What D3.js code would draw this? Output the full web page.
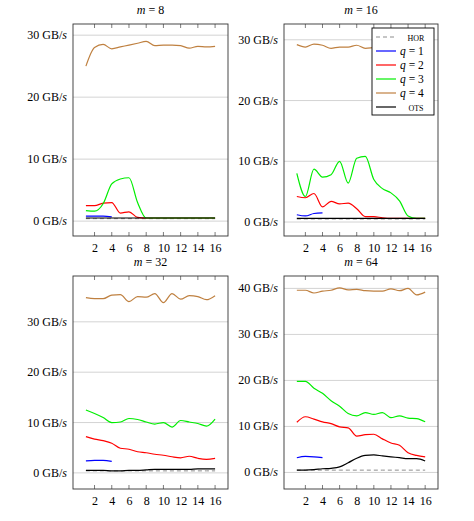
<!DOCTYPE html>
<meta charset="utf-8">
<script src="https://d3js.org/d3.v7.min.js"></script>
<style>body{margin:0;background:#fff} text{font-family:"Liberation Serif","Times New Roman","DejaVu Serif",serif !important}</style>
<div id="chart"></div>
<script>
// x values: 1..16
var xs = [1,2,3,4,5,6,7,8,9,10,11,12,13,14,15,16];
var xTicks = [2,4,6,8,10,12,14,16];
var titles = ["8", "16", "32", "64"];
var yTicksList = [[0,10,20,30],[0,10,20,30],[0,10,20,30],[0,10,20,30,40]];

var hor8  = [0.4,0.4,0.4,0.4,0.4,0.4,0.4,0.4,0.4,0.4,0.4,0.4,0.4,0.4,0.4,0.4];
var q1_8  = [0.8,0.8,0.8,0.7];
var q2_8  = [2.5,2.5,2.9,3.0,1.3,1.5,0.6,0.5,0.5,0.5,0.5,0.5,0.5,0.5,0.5,0.5];
var q3_8  = [1.7,1.6,2.8,6.0,6.8,7.0,3.0,0.5,0.5,0.5,0.5,0.5,0.5,0.5,0.5,0.5];
var q4_8  = [25,28,28.5,27.8,28.1,28.4,28.7,29,28.3,28.4,28.4,28.3,27.9,28.2,28.1,28.2];
var ots8  = [0.5,0.5,0.5,0.5,0.5,0.5,0.5,0.5,0.5,0.5,0.5,0.5,0.5,0.5,0.5,0.5];

var hor16 = [0.5,0.5,0.5,0.5,0.5,0.5,0.5,0.5,0.5,0.5,0.5,0.5,0.5,0.5,0.5,0.5];
var q1_16 = [1.2,1.0,1.4,1.5];
var q2_16 = [4.2,4.0,4.7,2.5,3.4,3.0,3.1,2.2,0.9,0.9,0.7,0.6,0.6,0.6,0.6,0.6];
var q3_16 = [8.0,4.2,8.7,7.4,7.8,10.0,6.4,10.5,10.8,7.0,5.5,4.8,3.5,1.0,0.6,0.6];
var q4_16 = [29.2,28.8,29.3,29.1,28.6,28.8,28.8,29.1,28.6,28.7,28.8,29.0,28.7,28.8,28.9,28.9];
var ots16 = [0.6,0.6,0.6,0.6,0.6,0.6,0.6,0.6,0.6,0.6,0.6,0.6,0.6,0.6,0.6,0.6];

var hor32 = [0.4,0.4,0.4,0.4,0.4,0.4,0.4,0.4,0.4,0.4,0.4,0.4,0.4,0.4,0.4,0.4];
var q1_32 = [2.4,2.5,2.5,2.3];
var q2_32 = [7.2,6.7,6.4,5.9,4.9,4.7,4.2,4.0,3.7,3.5,3.2,3.0,3.3,2.9,2.7,2.9];
var q3_32 = [12.5,11.8,11,10,10.1,10.8,10.6,10.1,9.7,10,9.1,10.4,10.1,9.8,9.3,10.7];
var q4_32 = [34.8,34.6,34.6,35.3,35.4,34,35,34.9,35.6,33.8,35.6,34.5,35.2,35,34.4,35.2];
var ots32 = [0.5,0.5,0.5,0.4,0.4,0.5,0.5,0.6,0.7,0.7,0.7,0.7,0.7,0.8,0.8,0.8];

var hor64 = [0.5,0.5,0.5,0.5,0.5,0.5,0.5,0.5,0.5,0.5,0.5,0.5,0.5,0.5,0.5,0.5];
var q1_64 = [3.2,3.5,3.4,3.2];
var q2_64 = [10.9,12.1,11.6,11,10.6,9.9,9.7,7.9,8.2,8.3,7.3,6.4,5.9,4.3,3.7,3.4];
var q3_64 = [19.8,19.8,18.3,17.2,15.6,14.4,12.8,12.3,13,12.6,13,11.9,12.3,11.8,11.7,11.0];
var q4_64 = [39.6,39.6,39,39.4,39.6,40.1,39.7,39.8,39.5,39.4,39.4,39.9,39.5,40,38.6,39.2];
var ots64 = [0.5,0.5,0.6,0.8,0.9,1.2,2.1,3.1,3.7,3.8,3.6,3.4,3.2,3.0,3.0,2.5];

var seriesNames = ["HOR","q = 1","q = 2","q = 3","q = 4","OTS"];
var colors = ["#808080","#0000ff","#ff0000","#00ee00","#bf8040","#000000"];
var panelData = [
  [hor8, q1_8, q2_8, q3_8, q4_8, ots8],
  [hor16,q1_16,q2_16,q3_16,q4_16,ots16],
  [hor32,q1_32,q2_32,q3_32,q4_32,ots32],
  [hor64,q1_64,q2_64,q3_64,q4_64,ots64]
];
var yDomains = [[-2.4,31.8],[-2.3,32.6],[-3.2,39.1],[-3.6,42.7]];

var boxes = [
  {x0:73, x1:228, y0:24, y1:236},
  {x0:284,x1:438, y0:24, y1:236},
  {x0:73, x1:228, y0:276,y1:489},
  {x0:284,x1:438, y0:276,y1:489}
];

var svg = d3.select("#chart").append("svg").attr("width",474).attr("height",521);

panelData.forEach(function(series, p) {
  var b = boxes[p];
  var x = d3.scaleLinear().domain([-0.5,17.5]).range([b.x0,b.x1]);
  var y = d3.scaleLinear().domain(yDomains[p]).range([b.y1,b.y0]);
  var g = svg.append("g");

  // grid
  g.selectAll(".grid").data(yTicksList[p]).enter().append("line")
    .attr("x1",b.x0).attr("x2",b.x1)
    .attr("y1",function(d){return y(d);}).attr("y2",function(d){return y(d);})
    .attr("stroke","#c8c8c8").attr("stroke-width",0.8);

  // y labels
  var yl = g.selectAll(".yl").data(yTicksList[p]).enter().append("text")
    .attr("x",b.x0-6).attr("y",function(d){return y(d)+4;})
    .attr("text-anchor","end").attr("font-size",12);
  yl.append("tspan").text(function(d){return d+" GB/";});
  yl.append("tspan").attr("font-style","italic").text("s");

  // x ticks
  var xAxis = d3.axisBottom(x).tickValues(xTicks).tickSize(0).tickPadding(7);
  var ax = g.append("g").attr("transform","translate(0,"+b.y1+")").call(xAxis);
  ax.select(".domain").remove();
  ax.selectAll("text").attr("font-size",12).attr("fill","#000");
  xTicks.forEach(function(t){
    g.append("line").attr("x1",x(t)).attr("x2",x(t)).attr("y1",b.y1).attr("y2",b.y1-4).attr("stroke","#444").attr("stroke-width",0.7);
    g.append("line").attr("x1",x(t)).attr("x2",x(t)).attr("y1",b.y0).attr("y2",b.y0+4).attr("stroke","#444").attr("stroke-width",0.7);
  });

  // lines
  var line = d3.line().curve(d3.curveMonotoneX)
    .x(function(d,i){return x(xs[i]);}).y(function(d){return y(d);});
  series.forEach(function(vals, s) {
    g.append("path").datum(vals).attr("d",line).attr("fill","none")
      .attr("stroke",colors[s]).attr("stroke-width", s===0 ? 0.9 : 1.2)
      .attr("stroke-dasharray", s===0 ? "4,3" : null);
  });

  // frame
  g.append("rect").attr("x",b.x0).attr("y",b.y0).attr("width",b.x1-b.x0).attr("height",b.y1-b.y0)
    .attr("fill","none").attr("stroke","#333").attr("stroke-width",0.9);

  // title
  var t = g.append("text").attr("x",(b.x0+b.x1)/2).attr("y",b.y0-10)
    .attr("text-anchor","middle").attr("font-size",12);
  t.append("tspan").attr("font-style","italic").text("m");
  t.append("tspan").text(" = "+titles[p]);
});

// legend in panel 2
var lg = svg.append("g").attr("transform","translate(372,28)");
lg.append("rect").attr("width",62).attr("height",87).attr("fill","#fff").attr("stroke","#000").attr("stroke-width",0.9);
seriesNames.forEach(function(name, i) {
  var yy = 9 + i*14;
  lg.append("line").attr("x1",4).attr("x2",24).attr("y1",yy).attr("y2",yy)
    .attr("stroke",colors[i]).attr("stroke-width", i===0?0.9:1.2)
    .attr("stroke-dasharray", i===0?"4,3":null);
  var tx = lg.append("text").attr("y",yy+4).attr("font-size", (i===0||i===5)?8:11.5);
  if (i===0 || i===5) {
    tx.attr("x",44).attr("text-anchor","middle").text(name);
  } else {
    tx.attr("x",28);
    tx.append("tspan").attr("font-style","italic").text("q");
    tx.append("tspan").text(" = "+i);
  }
});
</script>
